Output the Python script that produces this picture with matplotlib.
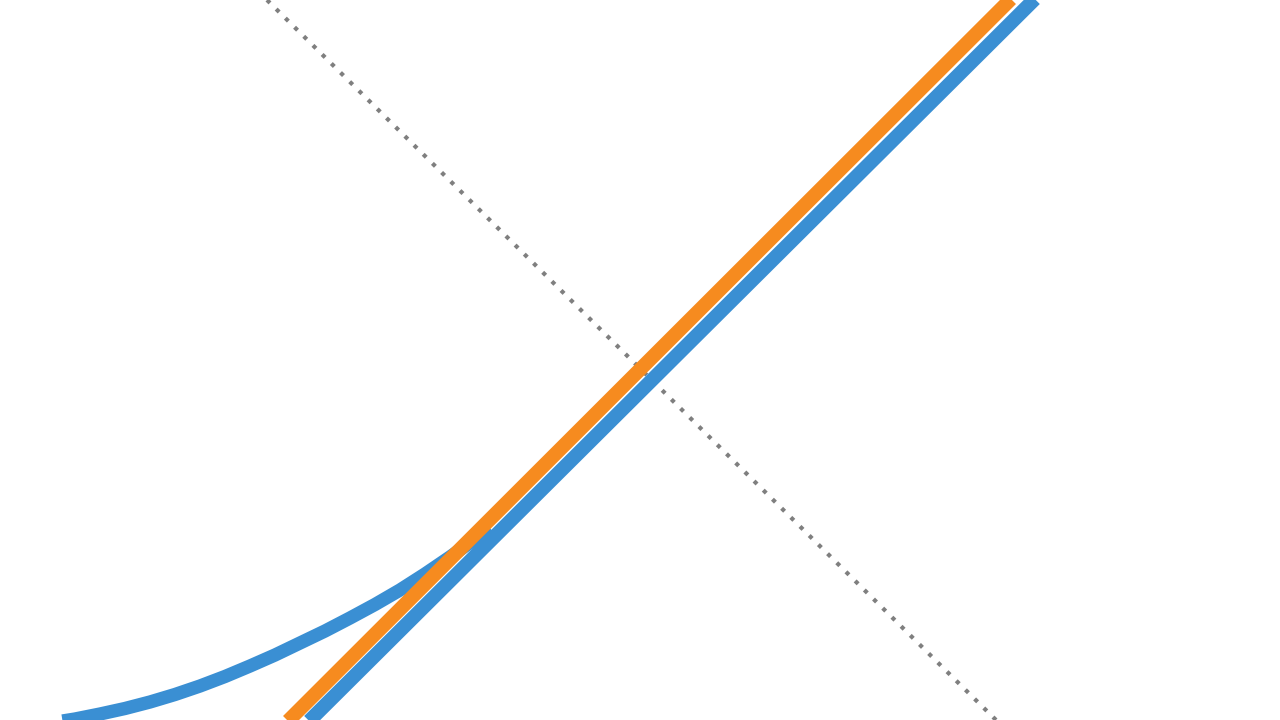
import matplotlib.pyplot as plt
import numpy as np

# curve (data units, origin at the centre, 1 unit = 100 px)
curve_x = [-6.40, -6.15, -5.90, -5.65, -5.40, -5.15, -4.90, -4.65, -4.40, -4.15,
           -3.90, -3.65, -3.40, -3.15, -2.90, -2.65, -2.40, -2.15, -1.90, -1.65, -1.50]
curve_y = [-3.70, -3.67, -3.63, -3.59, -3.54, -3.485, -3.42, -3.345, -3.26, -3.165,
           -3.06, -2.95, -2.83, -2.71, -2.58, -2.445, -2.30, -2.14, -1.97, -1.79, -1.68]

# straight lines: two end points each
blue_x = [-3.70, 4.34]
blue_y = [-4.00, 4.00]
orange_x = [-3.91, 4.10]
orange_y = [-4.00, 4.00]
dots_x = [-3.73, 3.57]
dots_y = [3.60, -3.61]

blue = "#3a8fd3"
orange = "#f68b1f"

fig = plt.figure(figsize=(12.8, 7.2), dpi=100)
ax = fig.add_axes([0, 0, 1, 1])

ax.plot(dots_x, dots_y, color="#7f7f7f", lw=3.0, linestyle=(0, (1, 2.1)), zorder=1)
ax.plot(curve_x, curve_y, color=blue, lw=9.6, solid_capstyle="butt",
        solid_joinstyle="round", zorder=2)
ax.plot(blue_x, blue_y, color=blue, lw=10.2, solid_capstyle="butt", zorder=3)
ax.plot(orange_x, orange_y, color=orange, lw=10.2, solid_capstyle="butt", zorder=4)

ax.set_xlim(-6.4, 6.4)
ax.set_ylim(-3.6, 3.6)
ax.axis("off")

fig.savefig("out.png", dpi=100, facecolor="white")
